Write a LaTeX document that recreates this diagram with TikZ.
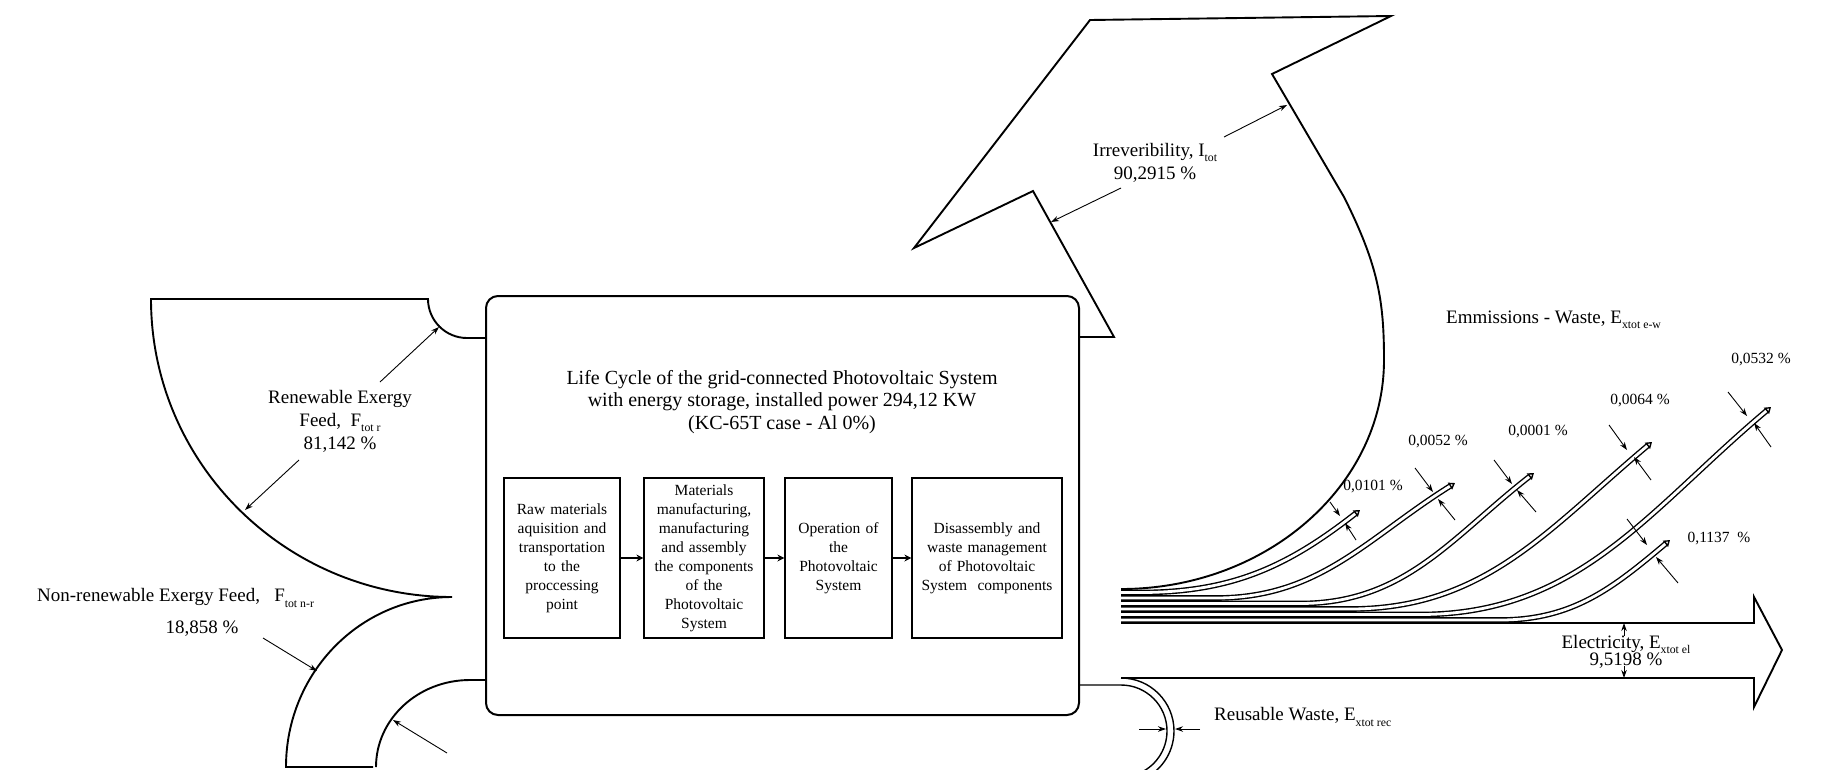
\documentclass[tikz,border=0pt]{standalone}
\usepackage{fontspec}
\setmainfont{Liberation Serif}
\usetikzlibrary{arrows.meta}
\newcommand\mysub[1]{\raisebox{-0.28em}{\scalebox{0.62}{#1}}}
\begin{document}
\begin{tikzpicture}[x=1pt,y=-1pt,
  flow/.style={line width=1.9pt,line join=miter},
  tube/.style={line width=1.4pt,double,double distance=2.8pt,-{Triangle[open,length=6pt,width=8pt]}},
  dim/.style={line width=0.9pt,-{Stealth[length=8pt,width=5.5pt]}},
  lab/.style={font=\fontsize{19}{23}\selectfont,align=center,inner sep=0pt},
  pct/.style={font=\fontsize{15.5}{18}\selectfont,inner sep=0pt},
  stagebox/.style={draw,line width=1.2pt,minimum height=160pt,font=\fontsize{15.5}{19}\selectfont,align=center,inner sep=2pt},
  stepar/.style={line width=1.8pt,-{Stealth[length=7pt,width=7pt]}}]
\useasboundingbox (0,0) rectangle (1827,769);
% main box
\draw[line width=2pt,rounded corners=12pt] (486,296) rectangle (1079,715);
\node[lab,font=\fontsize{20}{22.5}\selectfont] (title) at (782,402) {Life Cycle of the grid-connected Photovoltaic System\\with energy storage, installed power 294,12 KW\\(KC-65T case - Al 0\%)};
\node[stagebox,text width=112pt] (b1) at (562,558) {Raw materials\\aquisition and\\transportation\\to the\\proccessing\\point};
\node[stagebox,text width=116pt] (b2) at (704,558) {Materials\\manufacturing,\\manufacturing\\and assembly\\the components\\of the\\Photovoltaic\\System};
\node[stagebox,text width=103pt] (b3) at (838.5,558) {Operation of\\the\\Photovoltaic\\System};
\node[stagebox,text width=146pt] (b4) at (987,558) {Disassembly and\\waste management\\of Photovoltaic\\System\ \ components};
\draw[stepar] (b1) -- (b2);
\draw[stepar] (b2) -- (b3);
\draw[stepar] (b3) -- (b4);
% renewable + non-renewable feeds
\draw[flow] (486,338) -- (467,338) .. controls (445.5,338) and (428,320.5) .. (428,299)
  -- (151,299) .. controls (151,463.5) and (286,597) .. (452,597)
  .. controls (360,597) and (286,673) .. (286,767) -- (373,767);
\draw[flow] (376,767) .. controls (376,719) and (418,680) .. (470,680) -- (486,680);
\node[lab] (ren) at (340,421) {Renewable Exergy\\Feed,\ \ F\mysub{tot r}\\81,142 \%};
\coordinate (r1) at (439,327); \coordinate (r2) at (245,510);
\draw[dim] (380,382) -- (r1);
\draw[dim] (299,460) -- (r2);
\node[lab,anchor=west] (nren) at (37,598) {Non-renewable Exergy Feed,\ \ \ F\mysub{tot n-r}};
\node[lab] (nrenp) at (202,629) {18,858 \%};
\coordinate (n1) at (317,671); \coordinate (n2) at (393,720);
\draw[dim] (263,638) -- (n1);
\draw[dim] (447,753) -- (n2);
% irreversibility
\draw[flow] (1079,337) -- (1114,337) -- (1033,191) -- (914,248) -- (1090,20) -- (1391,16) -- (1272,74) -- (1344,197)
  .. controls (1378,265) and (1384,300) .. (1384,360)
  .. controls (1384,486) and (1266,589) .. (1121,589);
\node[lab] (irr) at (1155,163) {Irreveribility, I\mysub{tot}\\90,2915 \%};
\coordinate (i1) at (1287,105); \coordinate (i2) at (1051,222);
\draw[dim] (1224,137) -- (i1);
\draw[dim] (1121,188) -- (i2);
% emission tubes
\draw[tube] (1121,592.5) -- (1140,592.5) to[out=0,in=218] (1360,510);
\draw[tube] (1121,598) -- (1216,598) to[out=0,in=212] (1455,483);
\draw[tube] (1121,603.5) -- (1300,603.5) to[out=0,in=218] (1534,473);
\draw[tube] (1121,609) -- (1350,609) to[out=0,in=220] (1652,442);
\draw[tube] (1121,614.5) -- (1420,614.5) to[out=0,in=220] (1771,407);
\draw[tube] (1121,620) -- (1500,620) to[out=0,in=220] (1670,540);
\node[lab,anchor=west] (em) at (1446,320) {Emmissions - Waste, E\mysub{xtot e-w}};
\node[pct] (p1) at (1373,487) {0,0101 \%};
\node[pct] (p2) at (1438,442) {0,0052 \%};
\node[pct] (p3) at (1538,432) {0,0001 \%};
\node[pct] (p4) at (1640,401) {0,0064 \%};
\node[pct] (p5) at (1761,360) {0,0532 \%};
\node[pct] (p6) at (1719,539) {0,1137\ \ \%};
\draw[dim] (1330,502) -- (1340,516); \draw[dim] (1356,540) -- (1345,523);
\draw[dim] (1415,468) -- (1433,492); \draw[dim] (1455,520) -- (1438,499);
\draw[dim] (1494,460) -- (1512,484); \draw[dim] (1536,512) -- (1517,490);
\draw[dim] (1609,425) -- (1627,450); \draw[dim] (1651,480) -- (1634,457);
\draw[dim] (1728,392) -- (1747,416); \draw[dim] (1771,447) -- (1754,423);
\draw[dim] (1627,519) -- (1647,545); \draw[dim] (1678,583) -- (1656,557);
% electricity
\draw[flow] (1121,623) -- (1754,623) -- (1754,597) -- (1782,650) -- (1754,707) -- (1754,678) -- (1121,678);
\node[lab] (el) at (1626,652) {Electricity, E\mysub{xtot el}\\[-6pt]9,5198 \%};
\draw[dim] (1624,636) -- (1624,623);
\draw[dim] (1624,666) -- (1624,678);
% reusable waste
\begin{scope}
\clip (0,0) rectangle (1827,769);
\draw[line width=1.4pt] (1121,678) arc[start angle=-90,end angle=70,radius=53];
\draw[line width=1.4pt] (1079,685) -- (1121,685) arc[start angle=-90,end angle=70,radius=46];
\end{scope}
\node[lab,anchor=west] (rw) at (1214,717) {Reusable Waste, E\mysub{xtot rec}};
\draw[dim] (1139,729) -- (1166,729);
\draw[dim] (1200,729) -- (1175,729);
\end{tikzpicture}
\end{document}
